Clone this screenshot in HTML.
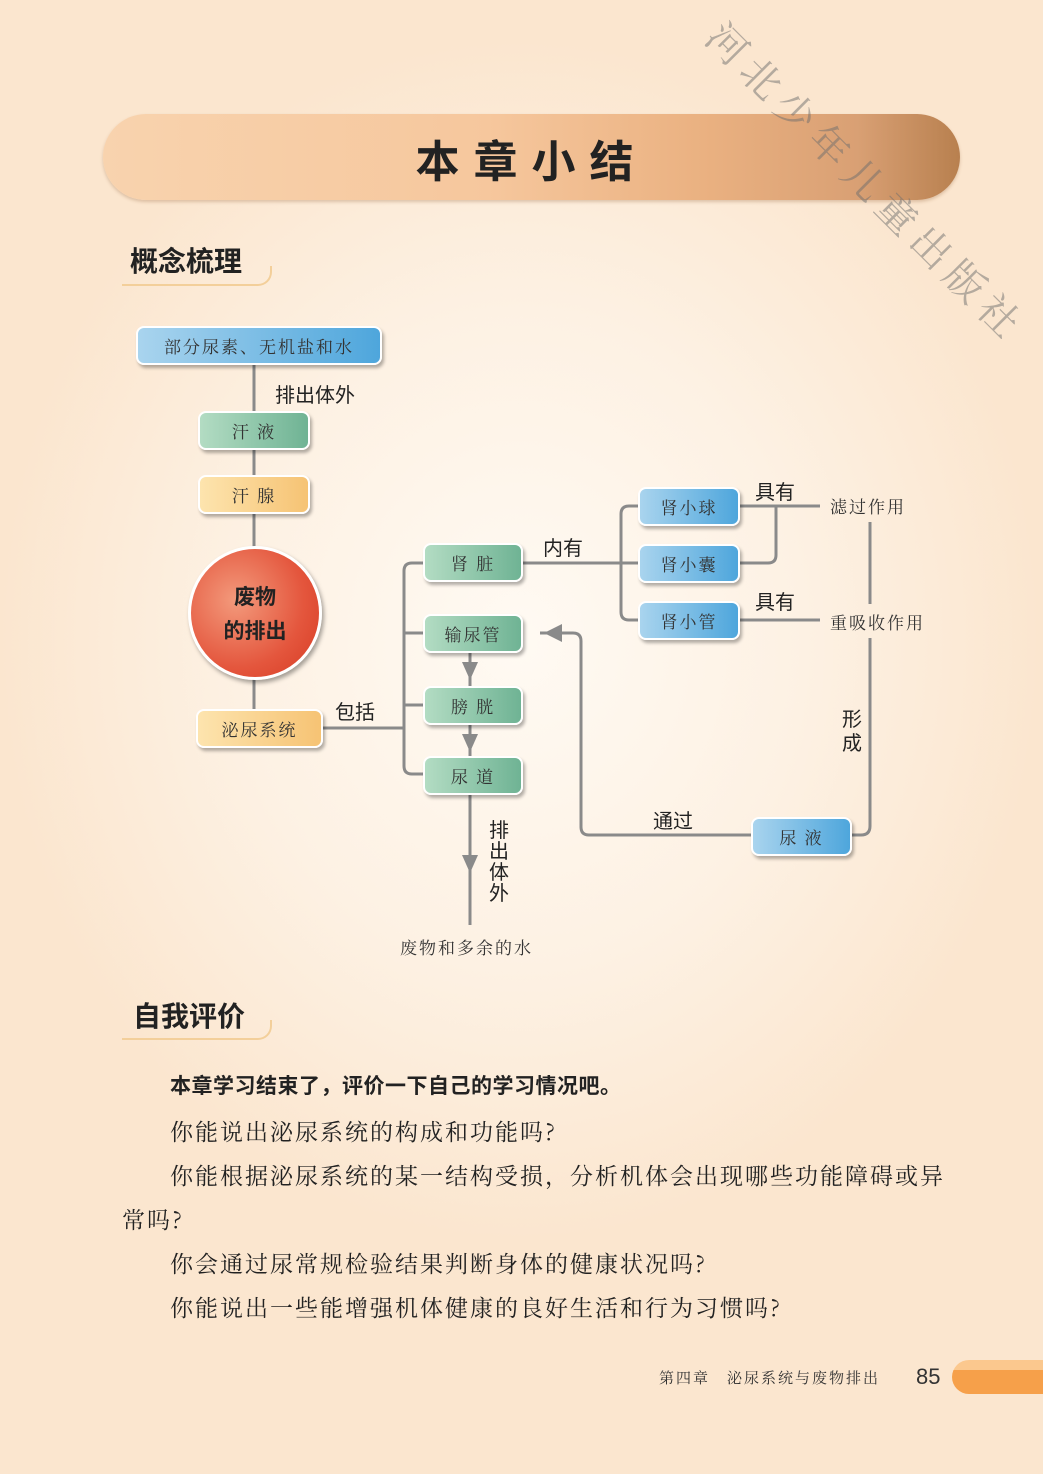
<!DOCTYPE html>
<html><head><meta charset="utf-8"><style>
html,body{margin:0;padding:0}
body{width:1043px;height:1474px;position:relative;overflow:hidden;font-family:"Liberation Sans","Noto Sans CJK SC",sans-serif;
background:radial-gradient(ellipse 520px 600px at 520px 640px,#fffaf3 0%,#fdf1e3 55%,#fbe6cf 100%);}
.a{position:absolute}
.band{left:103px;top:114px;width:857px;height:86px;border-radius:43px;background:linear-gradient(90deg,#f8d3ae 0%,#f6c79d 45%,#eab181 70%,#d9a074 88%,#b8804f 100%);box-shadow:0 2px 3px rgba(150,100,60,.3)}
.title{left:0;width:1063px;top:126px;text-align:center;font:bold 44px "Noto Sans CJK SC",sans-serif;letter-spacing:14px;color:#222}
.sec{font:bold 28px "Noto Sans CJK SC",sans-serif;color:#222}
.secl{height:18px;border-bottom:2px solid #f3cf9a;border-right:2px solid #f3cf9a;border-bottom-right-radius:14px}
.box{position:absolute;border-radius:8px;border:2px solid #fff;box-shadow:2px 3px 3px rgba(0,0,0,.3);display:flex;align-items:center;justify-content:center;font:17px "Noto Serif CJK SC",serif;color:#333;letter-spacing:2px;box-sizing:border-box}
.b{background:linear-gradient(90deg,#a9d4ee,#4ea6dc)}
.g{background:linear-gradient(90deg,#b3dcc3,#6fb394)}
.y{background:linear-gradient(90deg,#fde4ae,#f6c374)}
.lb{font:20px "Noto Sans CJK SC",sans-serif;color:#222}
.sm{font:17px "Noto Serif CJK SC",serif;color:#333;letter-spacing:2px}
.p{font:23px "Noto Serif CJK SC",serif;color:#222;left:170px;letter-spacing:2px;white-space:nowrap}
</style></head><body>
<div class="a band"></div>
<div class="a title">本章小结</div>
<div class="a" style="transform:rotate(45deg);transform-origin:0 0;font:40px 'Noto Serif CJK SC',serif;color:rgba(110,110,110,.5);letter-spacing:8px;white-space:nowrap;top:8px;left:735px">河北少年儿童出版社</div>
<div class="a sec" style="left:130px;top:240px">概念梳理</div>
<div class="a secl" style="left:122px;top:266px;width:148px"></div>

<svg class="a" style="left:0;top:0" width="1043" height="1000">
<g fill="none" stroke="#8a8a8a" stroke-width="3">
<path d="M254 364V709"/>
<path d="M322 728H404"/>
<path d="M423 563H412Q404 563 404 571V766Q404 774 412 774H423"/>
<path d="M404 633H423M404 705H423"/>
<path d="M470 652V686M470 724V756"/>
<path d="M522 563H638"/>
<path d="M638 506H629Q621 506 621 514V612Q621 620 629 620H638"/>
<path d="M739 506H820"/>
<path d="M739 563H768Q776 563 776 555V506"/>
<path d="M739 620H820"/>
<path d="M870 522V604"/>
<path d="M870 638V826Q870 835 861 835H851"/>
<path d="M751 835H589Q581 835 581 827V641Q581 633 573 633H540"/>
<path d="M470 794V925"/>
</g>
<g fill="#8a8a8a">
<polygon points="462,662 478,662 470,680"/>
<polygon points="462,734 478,734 470,752"/>
<polygon points="462,855 478,855 470,873"/>
<polygon points="544,633 562,624 562,642"/>
</g>
</svg>

<div class="box b" style="left:136px;top:326px;width:246px;height:39px">部分尿素、无机盐和水</div>
<div class="a lb" style="left:275px;top:379px">排出体外</div>
<div class="box g" style="left:198px;top:411px;width:112px;height:39px">汗 液</div>
<div class="box y" style="left:198px;top:475px;width:112px;height:39px">汗 腺</div>
<div class="a" style="left:188px;top:546px;width:128px;height:128px;border-radius:50%;border:3px solid #fff;background:radial-gradient(circle at 35% 40%,#f39a7c,#e4563d 60%,#d63a22);box-shadow:2px 3px 4px rgba(0,0,0,.35);display:flex;align-items:center;justify-content:center;text-align:center;font:bold 21px 'Noto Sans CJK SC',sans-serif;color:#222;line-height:34px">废物<br>的排出</div>
<div class="box y" style="left:196px;top:709px;width:127px;height:39px">泌尿系统</div>
<div class="a lb" style="left:335px;top:696px">包括</div>
<div class="box g" style="left:423px;top:543px;width:100px;height:39px">肾 脏</div>
<div class="box g" style="left:423px;top:614px;width:100px;height:39px">输尿管</div>
<div class="box g" style="left:423px;top:686px;width:100px;height:39px">膀 胱</div>
<div class="box g" style="left:423px;top:756px;width:100px;height:39px">尿 道</div>
<div class="a lb" style="left:543px;top:532px">内有</div>
<div class="box b" style="left:638px;top:487px;width:102px;height:39px">肾小球</div>
<div class="box b" style="left:638px;top:544px;width:102px;height:39px">肾小囊</div>
<div class="box b" style="left:638px;top:601px;width:102px;height:39px">肾小管</div>
<div class="a lb" style="left:755px;top:476px">具有</div>
<div class="a lb" style="left:755px;top:586px">具有</div>
<div class="a sm" style="left:830px;top:493px">滤过作用</div>
<div class="a sm" style="left:830px;top:609px">重吸收作用</div>
<div class="a lb" style="left:842px;top:706px;width:22px;line-height:24px">形成</div>
<div class="box b" style="left:751px;top:817px;width:101px;height:39px">尿 液</div>
<div class="a lb" style="left:653px;top:805px">通过</div>
<div class="a lb" style="left:489px;top:818px;width:22px;line-height:21px">排出体外</div>
<div class="a sm" style="left:400px;top:934px">废物和多余的水</div>

<div class="a sec" style="left:133px;top:995px">自我评价</div>
<div class="a secl" style="left:122px;top:1020px;width:148px"></div>
<div class="a p" style="top:1070px;font-family:'Noto Sans CJK SC',sans-serif;font-weight:bold;font-size:21px;letter-spacing:0.5px">本章学习结束了，评价一下自己的学习情况吧。</div>
<div class="a p" style="top:1114px">你能说出泌尿系统的构成和功能吗?</div>
<div class="a p" style="top:1158px">你能根据泌尿系统的某一结构受损，分析机体会出现哪些功能障碍或异</div>
<div class="a p" style="top:1202px;left:122px">常吗?</div>
<div class="a p" style="top:1246px">你会通过尿常规检验结果判断身体的健康状况吗?</div>
<div class="a p" style="top:1290px">你能说出一些能增强机体健康的良好生活和行为习惯吗?</div>

<div class="a sm" style="left:659px;top:1367px;font-size:15px">第四章　泌尿系统与废物排出</div>
<div class="a" style="left:916px;top:1364px;font:22px 'Liberation Sans',sans-serif;color:#333">85</div>
<div class="a" style="left:952px;top:1360px;width:91px;height:34px;background:linear-gradient(180deg,#fbc88e 0 30%,#f6a04a 30%);border-radius:17px 0 0 17px"></div>
</body></html>
